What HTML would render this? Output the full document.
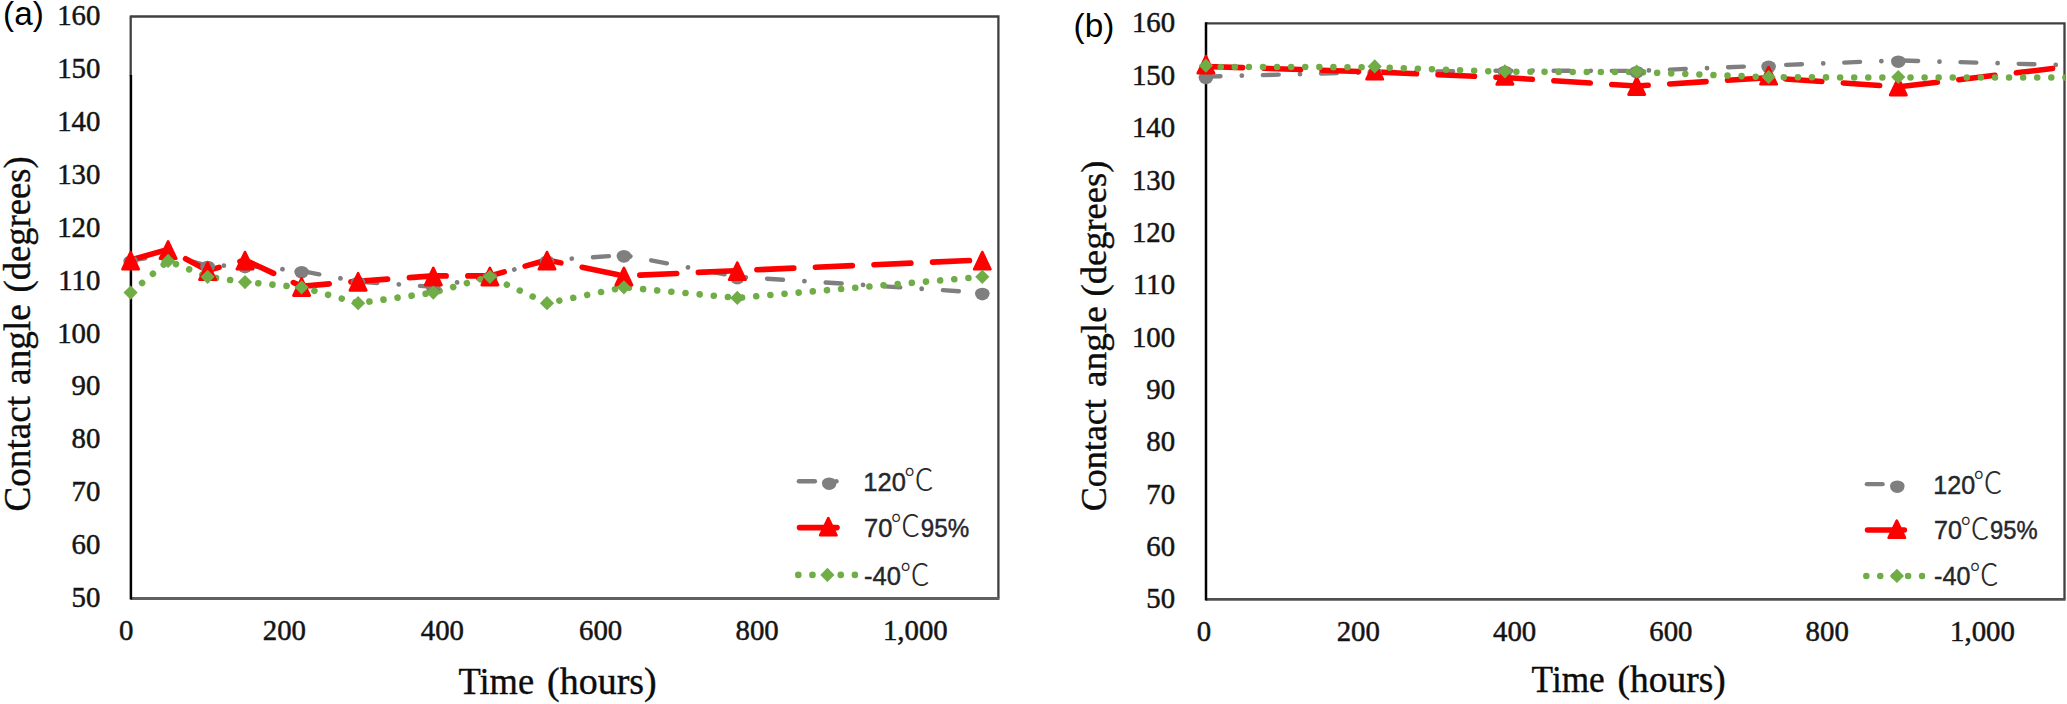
<!DOCTYPE html>
<html lang="en"><head><meta charset="utf-8"><title>Contact angle vs time</title>
<style>
html,body{margin:0;padding:0;background:#fff;}
body{width:2067px;height:704px;overflow:hidden;}
svg{display:block;position:absolute;left:0;top:0;}
.tk{font-family:"Liberation Serif","DejaVu Serif",serif;font-size:29.9px;fill:#141414;stroke:#141414;stroke-width:0.5px;}
.ti{font-family:"Liberation Serif","DejaVu Serif",serif;font-size:36.8px;fill:#0c0c0c;stroke:#0c0c0c;stroke-width:0.38px;}
.pl{font-family:"Liberation Sans","DejaVu Sans",sans-serif;font-size:33.3px;fill:#000;}
.lg{font-family:"Liberation Sans","DejaVu Sans",sans-serif;font-size:26px;fill:#26262e;stroke:#26262e;stroke-width:0.45px;}
.cj{font-family:"Liberation Sans","Noto Sans CJK SC","Noto Sans CJK JP","WenQuanYi Zen Hei",sans-serif;font-size:26.5px;font-weight:300;fill:#2a2a2a;}
</style></head><body>

<svg width="2067" height="704" viewBox="0 0 2067 704">
<defs>
<filter id="soft" x="-2%" y="-20%" width="104%" height="140%"><feGaussianBlur stdDeviation="0.55"/></filter>
<path id="mc" d="M-7.3,0.6 A7.3,7.1 0 0 0 7.3,0.6 A7.3,5.6 0 0 0 -7.3,0.6 Z" fill="#7f7f7f"/>
<polygon id="mt" points="0,-8.0 8.2,9.2 -8.2,9.2" fill="#ff0000" stroke="#ff0000" stroke-width="2.6" stroke-linejoin="round"/>
<polygon id="md" points="0,-7.1 7.1,0 0,7.1 -7.1,0" fill="#70ad47"/>
</defs>
<rect width="2067" height="704" fill="#fff"/>
<path d="M130.7,16.5 H998.4 V598.3" fill="none" stroke="#404040" stroke-width="2.3"/>
<path d="M130.7,15.5 V76" fill="none" stroke="#404040" stroke-width="2.3"/>
<path d="M130.7,598.5 H999.5" fill="none" stroke="#606060" stroke-width="2.9"/>
<path d="M130.9,75 V599.6" fill="none" stroke="#000" stroke-width="2.5"/>
<g id="a" filter="url(#soft)">
<g fill="none">
<polyline points="130.6,260.4 168.1,255.1 207.6,265.7 245.0,265.7 301.6,271.0 358.1,281.6 433.3,286.8 489.9,276.3 547.0,260.4 623.9,255.1 737.3,276.8 982.3,292.7" stroke="#7f7f7f" stroke-width="4.40" stroke-linecap="round" stroke-dasharray="16.00 42.75" stroke-dashoffset="1.20"/>
<polyline points="130.6,260.4 168.1,255.1 207.6,265.7 245.0,265.7 301.6,271.0 358.1,281.6 433.3,286.8 489.9,276.3 547.0,260.4 623.9,255.1 737.3,276.8 982.3,292.7" stroke="#7f7f7f" stroke-width="4.80" stroke-linecap="round" stroke-dasharray="0.01 58.74" stroke-dashoffset="-36.30"/>
<polyline points="130.6,260.0 168.1,249.4 207.6,270.6 245.0,260.0 301.6,286.4 358.1,281.2 433.3,275.9 489.9,275.9 547.0,260.0 623.9,275.9 737.3,270.6 982.3,260.0" stroke="#ff0000" stroke-width="5.60" stroke-linecap="round" stroke-dasharray="36.90 21.70" stroke-dashoffset="-0.20"/>
<polyline points="130.6,292.6 168.1,260.9 207.6,276.8 245.0,282.1 301.6,287.3 358.1,303.2 433.3,292.6 489.9,276.8 547.0,303.2 623.9,287.3 737.3,297.9 982.3,276.8" stroke="#70ad47" stroke-width="6.60" stroke-linecap="round" stroke-dasharray="0.01 14.19" stroke-dashoffset="-0.80"/>
</g>
<g>
<use href="#mc" x="130.6" y="260.4"/>
<use href="#mc" x="168.1" y="255.1"/>
<use href="#mc" x="207.6" y="265.7"/>
<use href="#mc" x="245.0" y="265.7"/>
<use href="#mc" x="301.6" y="271.0"/>
<use href="#mc" x="358.1" y="281.6"/>
<use href="#mc" x="433.3" y="286.8"/>
<use href="#mc" x="489.9" y="276.3"/>
<use href="#mc" x="547.0" y="260.4"/>
<use href="#mc" x="623.9" y="255.1"/>
<use href="#mc" x="737.3" y="276.8"/>
<use href="#mc" x="982.3" y="292.7"/>
<use href="#mt" x="130.6" y="260.0"/>
<use href="#mt" x="168.1" y="249.4"/>
<use href="#mt" x="207.6" y="270.6"/>
<use href="#mt" x="245.0" y="260.0"/>
<use href="#mt" x="301.6" y="286.4"/>
<use href="#mt" x="358.1" y="281.2"/>
<use href="#mt" x="433.3" y="275.9"/>
<use href="#mt" x="489.9" y="275.9"/>
<use href="#mt" x="547.0" y="260.0"/>
<use href="#mt" x="623.9" y="275.9"/>
<use href="#mt" x="737.3" y="270.6"/>
<use href="#mt" x="982.3" y="260.0"/>
<use href="#md" x="130.6" y="292.6"/>
<use href="#md" x="168.1" y="260.9"/>
<use href="#md" x="207.6" y="276.8"/>
<use href="#md" x="245.0" y="282.1"/>
<use href="#md" x="301.6" y="287.3"/>
<use href="#md" x="358.1" y="303.2"/>
<use href="#md" x="433.3" y="292.6"/>
<use href="#md" x="489.9" y="276.8"/>
<use href="#md" x="547.0" y="303.2"/>
<use href="#md" x="623.9" y="287.3"/>
<use href="#md" x="737.3" y="297.9"/>
<use href="#md" x="982.3" y="276.8"/>
</g>
</g>
<path d="M1206.0,23.3 H2064.5 V599.2" fill="none" stroke="#404040" stroke-width="2.3"/>
<path d="M1206.0,599.4000000000001 H2065.6" fill="none" stroke="#505050" stroke-width="2.9"/>
<path d="M1206.0,22.2 V600.5" fill="none" stroke="#000" stroke-width="2.5"/>
<g id="b" filter="url(#soft)">
<clipPath id="clipb"><rect x="1186.0" y="23.3" width="879.0" height="575.9000000000001"/></clipPath>
<g clip-path="url(#clipb)" fill="none">
<polyline points="1205.9,76.6 1374.7,72.1 1504.9,70.7 1636.7,70.9 1768.6,65.6 1898.3,60.4 2067.6,65.2" stroke="#7f7f7f" stroke-width="4.36" stroke-linecap="round" stroke-dasharray="15.84 42.32" stroke-dashoffset="1.19"/>
<polyline points="1205.9,76.6 1374.7,72.1 1504.9,70.7 1636.7,70.9 1768.6,65.6 1898.3,60.4 2067.6,65.2" stroke="#7f7f7f" stroke-width="4.75" stroke-linecap="round" stroke-dasharray="0.01 58.15" stroke-dashoffset="-35.94"/>
<polyline points="1205.9,66.4 1374.7,72.0 1504.9,77.6 1636.7,86.0 1768.6,77.7 1898.3,86.9 2067.6,66.7" stroke="#ff0000" stroke-width="5.54" stroke-linecap="round" stroke-dasharray="36.53 21.48" stroke-dashoffset="-0.20"/>
<polyline points="1205.9,66.9 1374.7,67.2 1504.9,71.8 1636.7,72.0 1768.6,77.2 1898.3,77.6 2067.6,77.6" stroke="#70ad47" stroke-width="6.53" stroke-linecap="round" stroke-dasharray="0.01 14.07" stroke-dashoffset="-0.79"/>
</g>
<g clip-path="url(#clipb)">
<use href="#mc" x="1205.9" y="76.6"/>
<use href="#mc" x="1374.7" y="72.1"/>
<use href="#mc" x="1504.9" y="70.7"/>
<use href="#mc" x="1636.7" y="70.9"/>
<use href="#mc" x="1768.6" y="65.6"/>
<use href="#mc" x="1898.3" y="60.4"/>
<use href="#mt" x="1205.9" y="64.0"/>
<use href="#mt" x="1374.7" y="70.1"/>
<use href="#mt" x="1504.9" y="75.2"/>
<use href="#mt" x="1636.7" y="85.4"/>
<use href="#mt" x="1768.6" y="75.1"/>
<use href="#mt" x="1898.3" y="85.9"/>
<use href="#md" x="1205.9" y="65.6"/>
<use href="#md" x="1374.7" y="66.4"/>
<use href="#md" x="1504.9" y="71.3"/>
<use href="#md" x="1636.7" y="71.5"/>
<use href="#md" x="1768.6" y="77.0"/>
<use href="#md" x="1898.3" y="77.0"/>
</g>
</g>
<text class="tk" transform="translate(100.4,607.0) scale(0.963,1)" text-anchor="end">50</text>
<text class="tk" transform="translate(1175.1,608.3) scale(0.963,1)" text-anchor="end">50</text>
<text class="tk" transform="translate(100.4,554.1) scale(0.963,1)" text-anchor="end">60</text>
<text class="tk" transform="translate(1175.1,555.9) scale(0.963,1)" text-anchor="end">60</text>
<text class="tk" transform="translate(100.4,501.2) scale(0.963,1)" text-anchor="end">70</text>
<text class="tk" transform="translate(1175.1,503.6) scale(0.963,1)" text-anchor="end">70</text>
<text class="tk" transform="translate(100.4,448.3) scale(0.963,1)" text-anchor="end">80</text>
<text class="tk" transform="translate(1175.1,451.2) scale(0.963,1)" text-anchor="end">80</text>
<text class="tk" transform="translate(100.4,395.4) scale(0.963,1)" text-anchor="end">90</text>
<text class="tk" transform="translate(1175.1,398.9) scale(0.963,1)" text-anchor="end">90</text>
<text class="tk" transform="translate(100.4,342.6) scale(0.963,1)" text-anchor="end">100</text>
<text class="tk" transform="translate(1175.1,346.5) scale(0.963,1)" text-anchor="end">100</text>
<text class="tk" transform="translate(100.4,289.7) scale(0.963,1)" text-anchor="end">110</text>
<text class="tk" transform="translate(1175.1,294.2) scale(0.963,1)" text-anchor="end">110</text>
<text class="tk" transform="translate(100.4,236.8) scale(0.963,1)" text-anchor="end">120</text>
<text class="tk" transform="translate(1175.1,241.8) scale(0.963,1)" text-anchor="end">120</text>
<text class="tk" transform="translate(100.4,183.9) scale(0.963,1)" text-anchor="end">130</text>
<text class="tk" transform="translate(1175.1,189.5) scale(0.963,1)" text-anchor="end">130</text>
<text class="tk" transform="translate(100.4,131.0) scale(0.963,1)" text-anchor="end">140</text>
<text class="tk" transform="translate(1175.1,137.1) scale(0.963,1)" text-anchor="end">140</text>
<text class="tk" transform="translate(100.4,78.1) scale(0.963,1)" text-anchor="end">150</text>
<text class="tk" transform="translate(1175.1,84.8) scale(0.963,1)" text-anchor="end">150</text>
<text class="tk" transform="translate(100.4,25.2) scale(0.963,1)" text-anchor="end">160</text>
<text class="tk" transform="translate(1175.1,32.4) scale(0.963,1)" text-anchor="end">160</text>
<text class="tk" transform="translate(126.1,640.4) scale(0.963,1)" text-anchor="middle">0</text>
<text class="tk" transform="translate(284.4,640.4) scale(0.963,1)" text-anchor="middle">200</text>
<text class="tk" transform="translate(442.4,640.4) scale(0.963,1)" text-anchor="middle">400</text>
<text class="tk" transform="translate(600.6,640.4) scale(0.963,1)" text-anchor="middle">600</text>
<text class="tk" transform="translate(757.1,640.4) scale(0.963,1)" text-anchor="middle">800</text>
<text class="tk" transform="translate(915.3,640.4) scale(0.963,1)" text-anchor="middle">1,000</text>
<text class="tk" transform="translate(1203.9,640.6) scale(0.963,1)" text-anchor="middle">0</text>
<text class="tk" transform="translate(1358.3,640.6) scale(0.963,1)" text-anchor="middle">200</text>
<text class="tk" transform="translate(1514.6,640.6) scale(0.963,1)" text-anchor="middle">400</text>
<text class="tk" transform="translate(1670.9,640.6) scale(0.963,1)" text-anchor="middle">600</text>
<text class="tk" transform="translate(1827.2,640.6) scale(0.963,1)" text-anchor="middle">800</text>
<text class="tk" transform="translate(1982.5,640.6) scale(0.963,1)" text-anchor="middle">1,000</text>
<text class="ti" transform="translate(458.5,693.9) scale(0.98,1)" style="font-size:37.2px">Time</text>
<text class="ti" transform="translate(547.1,693.9) scale(1.02,1)" style="font-size:37.2px">(hours)</text>
<text class="ti" transform="translate(1531.6,692.3) scale(0.955,1)" style="font-size:36.9px">Time</text>
<text class="ti" transform="translate(1617.6,692.3) scale(1.015,1)" style="font-size:36.9px">(hours)</text>
<text class="ti" transform="translate(30.2,511.4) rotate(-90) scale(1.0,1.04)" style="font-size:37.1px">Contact</text>
<text class="ti" transform="translate(30.2,384.9) rotate(-90) scale(1.005,1.04)" style="font-size:37.1px">angle</text>
<text class="ti" transform="translate(30.2,292.4) rotate(-90) scale(0.987,1.04)" style="font-size:37.1px">(degrees)</text>
<text class="ti" transform="translate(1106.0,511.3) rotate(-90) scale(0.982,1.0)" style="font-size:36.7px">Contact</text>
<text class="ti" transform="translate(1106.0,386.9) rotate(-90) scale(1.014,1.0)" style="font-size:36.7px">angle</text>
<text class="ti" transform="translate(1106.0,296.4) rotate(-90) scale(0.995,1.0)" style="font-size:36.7px">(degrees)</text>
<text class="pl" x="3.1" y="24.9">(a)</text>
<text class="pl" x="1073.6" y="37.0">(b)</text>
<g filter="url(#soft)">
<g fill="none">
<path d="M797.0,481.2 h57.0" stroke="#7f7f7f" stroke-width="4.40" stroke-linecap="round" stroke-dasharray="16.00 42.60" stroke-dashoffset="-1.90"/>
<path d="M797.0,481.2 h57.0" stroke="#7f7f7f" stroke-width="4.40" stroke-linecap="round" stroke-dasharray="0.01 58.59" stroke-dashoffset="-39.50"/>
<path d="M799.5,527.6 h37.5" stroke="#ff0000" stroke-width="5.60" stroke-linecap="round"/>
<path d="M798.3,574.9 h58.0" stroke="#70ad47" stroke-width="6.60" stroke-linecap="round" stroke-dasharray="0.01 14.14"/>
</g>
<use href="#mc" x="829.2" y="482.4"/>
<use href="#mt" x="828.3" y="526.1"/>
<use href="#md" x="827.4" y="574.9"/>
</g>
<text class="lg" transform="translate(863.3,490.8) scale(0.98,1)" style="font-size:26.00px">120</text>
<text class="cj" x="903.9" y="490.2" style="font-size:29.80px">℃</text>
<text class="lg" transform="translate(864.0,536.7) scale(0.98,1)" style="font-size:26.00px">70</text>
<text class="cj" x="890.6" y="536.1" style="font-size:29.80px">℃</text>
<text class="lg" transform="translate(920.8,536.7) scale(0.93,1)" style="font-size:26.00px">95%</text>
<text class="lg" transform="translate(864.1,585.2) scale(0.98,1)" style="font-size:26.00px">-40</text>
<text class="cj" x="899.9" y="584.6" style="font-size:29.80px">℃</text>
<g filter="url(#soft)">
<g fill="none">
<path d="M1865.0,484.2 h56.1" stroke="#7f7f7f" stroke-width="4.33" stroke-linecap="round" stroke-dasharray="15.76 41.96" stroke-dashoffset="-1.87"/>
<path d="M1865.0,484.2 h56.1" stroke="#7f7f7f" stroke-width="4.33" stroke-linecap="round" stroke-dasharray="0.01 57.71" stroke-dashoffset="-34.91"/>
<path d="M1867.5,530.1 h36.9" stroke="#ff0000" stroke-width="5.52" stroke-linecap="round"/>
<path d="M1866.3,575.9 h57.1" stroke="#70ad47" stroke-width="6.50" stroke-linecap="round" stroke-dasharray="0.01 13.93"/>
</g>
<use href="#mc" x="1897.3" y="485.4"/>
<use href="#mt" x="1896.8" y="528.6"/>
<use href="#md" x="1896.9" y="575.9"/>
</g>
<text class="lg" transform="translate(1933.3,493.8) scale(0.98,1)" style="font-size:25.61px">120</text>
<text class="cj" x="1973.3" y="493.2" style="font-size:29.35px">℃</text>
<text class="lg" transform="translate(1934.0,539.1) scale(0.98,1)" style="font-size:25.61px">70</text>
<text class="cj" x="1960.2" y="538.5" style="font-size:29.35px">℃</text>
<text class="lg" transform="translate(1989.9,539.1) scale(0.93,1)" style="font-size:25.61px">95%</text>
<text class="lg" transform="translate(1934.1,585.4) scale(0.98,1)" style="font-size:25.61px">-40</text>
<text class="cj" x="1969.4" y="584.8" style="font-size:29.35px">℃</text>
</svg></body></html>
